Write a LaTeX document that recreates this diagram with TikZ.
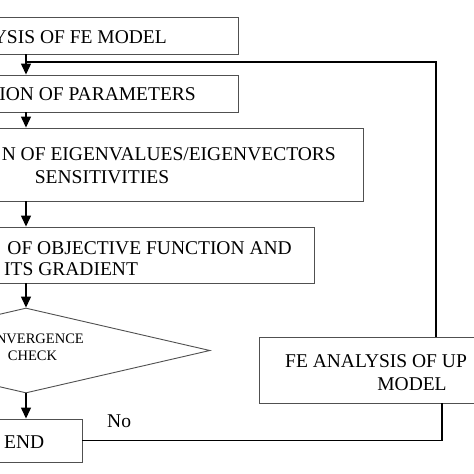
\documentclass[tikz,border=0pt]{standalone}
\usepackage{fontspec}
\setmainfont{Liberation Serif}
\usepackage{xcolor}
\usetikzlibrary{arrows.meta}
\usetikzlibrary{shapes.geometric}
\definecolor{boxgray}{HTML}{505050}
\begin{document}
\begin{tikzpicture}[x=1pt,y=-1pt,
	blk/.style={draw=boxgray,line width=0.9pt,rectangle,inner sep=0pt},
	lbl/.style={inner sep=0pt,font=\fontsize{19.5}{22}\selectfont},
	smalllbl/.style={inner sep=0pt,font=\fontsize{14.5}{17}\selectfont},
	flow/.style={line width=1.3pt,-{Triangle[length=11pt,width=10pt]}},
	wire/.style={line width=1.3pt}]
	\useasboundingbox (0,0) rectangle (474,474);
	\clip (0,0) rectangle (474,474);
	\fill[white] (0,0) rectangle (474,474);
	%boxes, cut at the edges of the picture
	\node[blk,minimum width=428pt,minimum height=37pt] (fem) at (24,35.5) {};
	\node[blk,minimum width=428pt,minimum height=37pt] (sel) at (24,93.5) {};
	\node[blk,minimum width=553pt,minimum height=73pt] (eig) at (86.5,164.5) {};
	\node[blk,minimum width=504pt,minimum height=56pt] (obj) at (62,255) {};
	\node[draw=boxgray,line width=0.9pt,diamond,inner sep=0pt,minimum width=368pt,minimum height=85pt] (conv) at (26,350.5) {};
	\node[blk,minimum width=182pt,minimum height=43pt] (stop) at (-9,440.5) {};
	\node[blk,minimum width=361pt,minimum height=66pt] (upd) at (439.5,370) {};
	%texts
	\node[lbl,anchor=base east] (femtxt) at (167,43) {YSIS OF FE MODEL};
	\node[lbl,anchor=base east] (seltxt) at (196,100) {ION OF PARAMETERS};
	\node[lbl,anchor=base east] (eigtxt) at (336,160) {N OF EIGENVALUES/EIGENVECTORS};
	\node[lbl,anchor=base] (eigtxtb) at (102,183) {SENSITIVITIES};
	\node[lbl,anchor=base east] (objtxt) at (292,254) {OF OBJECTIVE FUNCTION AND};
	\node[lbl,anchor=base west] (objtxtb) at (4,275) {ITS GRADIENT};
	\node[smalllbl,anchor=base east] (convtxt) at (84,343) {NVERGENCE};
	\node[smalllbl,anchor=base] (convtxtb) at (32.5,360) {CHECK};
	\node[lbl,anchor=base west] (stoptxt) at (4,448) {END};
	\node[lbl,anchor=base west] (updtxt) at (285,367) {FE ANALYSIS OF UP};
	\node[lbl,anchor=base] (updtxtb) at (412,390) {MODEL};
	\node[lbl,anchor=base west] (no) at (107,427) {No};
	%connectors
	\coordinate (spine) at (26,0);
	\coordinate (up) at (436,62);
	\coordinate (dn) at (442,0);
	\draw[flow] (fem.south -| spine) -- (sel.north -| spine);
	\draw[flow] (sel.south -| spine) -- (eig.north -| spine);
	\draw[flow] (eig.south -| spine) -- (obj.north -| spine);
	\draw[flow] (obj.south -| spine) -- (conv.north);
	\draw[flow] (conv.south) -- (stop.north -| spine);
	\draw[wire] (stop.east) -- (stop.east -| dn) -- (upd.south -| dn);
	\draw[wire] (upd.north -| up) -- (up) -- (up -| spine);
\end{tikzpicture}
\end{document}
